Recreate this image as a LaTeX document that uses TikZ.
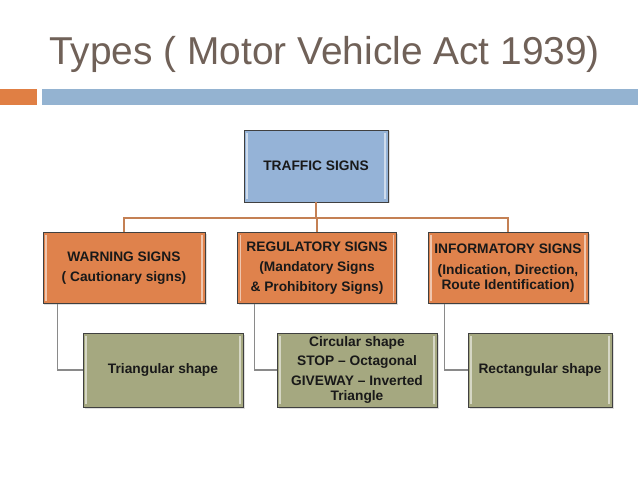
\documentclass[tikz,border=0pt]{standalone}
\usepackage{fontspec}
\setmainfont{Liberation Sans}
\usetikzlibrary{shadows}
\definecolor{titlegray}{RGB}{112, 97, 88}
\definecolor{barorange}{RGB}{224, 127, 68}
\definecolor{barblue}{RGB}{148, 179, 209}
\definecolor{boxblue}{RGB}{149, 179, 215}
\definecolor{boxorange}{RGB}{223, 130, 76}
\definecolor{boxolive}{RGB}{165, 168, 128}
\definecolor{linebrown}{RGB}{196, 128, 84}
\definecolor{linegray}{RGB}{138, 138, 138}

\begin{document}
\begin{tikzpicture}[x=1bp, y=-1bp,
        signbox/.style={draw=black!75, line width=0.8bp, align=center, inner sep=2bp,
            font=\fontsize{13.8}{15}\selectfont\bfseries, text=black!90,
            drop shadow={opacity=0.25, shadow xshift=1.5bp, shadow yshift=-1.5bp},
            path picture={
                \draw[white, opacity=0.55, line width=1.6bp]
                    ([xshift=3bp, yshift=-3bp]path picture bounding box.north west) --
                    ([xshift=3bp, yshift=3bp]path picture bounding box.south west);
                \draw[white, opacity=0.55, line width=1.6bp]
                    ([xshift=-3bp, yshift=-3bp]path picture bounding box.north east) --
                    ([xshift=-3bp, yshift=3bp]path picture bounding box.south east);
            }},
        trunk/.style={draw=linebrown, line width=1.1bp},
        branch/.style={draw=linegray, line width=1.1bp}]
        % 画像の大きさ（ピクセル単位）
        \useasboundingbox (0,0) rectangle (638,479);
        \fill[white] (0,0) rectangle (638,479);
        % タイトル
        \node[anchor=base west, inner sep=0, text=titlegray,
            font=\fontsize{39}{45}\selectfont] (title) at (49,65) {Types ( Motor Vehicle Act 1939)};
        % タイトル下の帯
        \fill[barorange] (0,89) rectangle (37,105);
        \fill[barblue] (42,89) rectangle (638,105);
        % 最上段
        \node[signbox, fill=boxblue, minimum width=144bp, minimum height=72bp] (traffic) at (316,166) {TRAFFIC SIGNS};
        % 二段目
        \node[signbox, fill=boxorange, minimum width=162bp, minimum height=71bp] (warning) at (124,268)
            {WARNING SIGNS\\[5bp]( Cautionary signs)};
        \node[signbox, fill=boxorange, minimum width=159bp, minimum height=71bp] (regulatory) at (317,268)
            {REGULATORY SIGNS\\[5bp](Mandatory Signs\\[5bp]\& Prohibitory Signs)};
        \node[signbox, fill=boxorange, minimum width=160bp, minimum height=71bp] (informatory) at (508,268)
            {INFORMATORY SIGNS\\[6bp](Indication, Direction,\\Route Identification)};
        % 三段目
        \node[signbox, fill=boxolive, minimum width=160bp, minimum height=74bp] (triangular) at (163,370) {Triangular shape};
        \node[signbox, fill=boxolive, minimum width=160bp, minimum height=74bp] (circular) at (357,370)
            {Circular shape\\[4bp]STOP -- Octagonal\\[5bp]GIVEWAY -- Inverted\\Triangle};
        \node[signbox, fill=boxolive, minimum width=144bp, minimum height=74bp] (rectangular) at (540,370) {Rectangular shape};
        % 上の連結線
        \coordinate (hub) at (316,218);
        \draw[trunk] (traffic.south) -- (hub);
        \draw[trunk] (hub) -| (warning.north);
        \draw[trunk] (hub) -| (regulatory.north);
        \draw[trunk] (hub) -| (informatory.north);
        % 下の連結線
        \draw[branch] ([xshift=15bp]warning.south west) |- (triangular.west);
        \draw[branch] ([xshift=17bp]regulatory.south west) |- (circular.west);
        \draw[branch] ([xshift=17bp]informatory.south west) |- (rectangular.west);
    \end{tikzpicture}
\end{document}
